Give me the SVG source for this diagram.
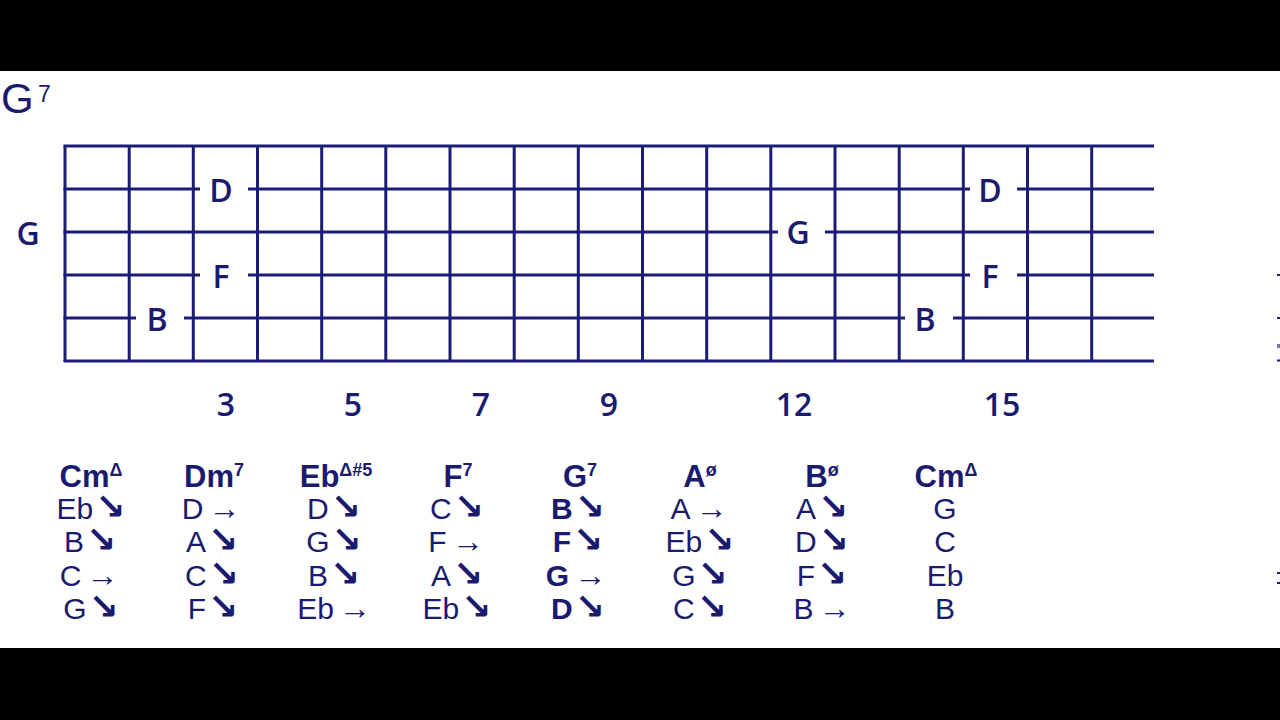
<svg xmlns="http://www.w3.org/2000/svg" width="1280" height="720" viewBox="0 0 1280 720">
<style>
.bar{fill:#000}
.ln{stroke:#1c1c74;stroke-width:3;fill:none;stroke-linecap:butt}
.fb{font-family:"Open Sans","DejaVu Sans",sans-serif;font-weight:600;font-size:32px;fill:#1a1a6e;text-anchor:middle}
.ttl{font-family:"Liberation Sans",Arial,sans-serif;fill:#1a1a6e}
.hdr{font-family:"Liberation Sans",Arial,sans-serif;font-weight:bold;font-size:31px;fill:#1a1a6e;text-anchor:middle}
.sup{font-size:18px}
.nt{font-family:"Liberation Sans",Arial,sans-serif;font-size:30px;fill:#1a1a6e;text-anchor:middle}
.b{font-weight:bold}
.dn{font-family:"DejaVu Sans",sans-serif;font-weight:bold;font-size:36px}
.rt{font-family:"Liberation Sans",Arial,sans-serif;font-weight:normal;font-size:32px}
.frag{fill:#1c1c74}
</style>
<rect width="1280" height="720" fill="#fff"/>
<rect class="bar" x="0" y="0" width="1280" height="71"/>
<rect class="bar" x="0" y="648" width="1280" height="72"/>

<g id="title">
<text class="ttl" x="1" y="113" font-size="42">G</text>
<text class="ttl" x="38" y="102" font-size="23">7</text>
</g>

<g id="fretboard">
<path class="ln" d="M63.5 146H1154 M63.5 361H1154
M63.5 189H200 M248 189H970 M1017 189H1154
M63.5 232H778 M825 232H1154
M63.5 275H200 M248 275H970 M1017 275H1154
M63.5 318H136 M184 318H905 M953 318H1154"/>
<path class="ln" d="M65 146V361 M129.2 146V361 M193.3 146V361 M257.5 146V361 M321.7 146V361 M385.8 146V361 M450 146V361 M514.2 146V361 M578.3 146V361 M642.5 146V361 M706.7 146V361 M770.8 146V361 M835 146V361 M899.2 146V361 M963.3 146V361 M1027.5 146V361 M1091.7 146V361"/>
</g>

<g id="open-string"><text class="fb" x="28" y="245">G</text></g>
<g id="note-D-3"><text class="fb" x="221" y="202">D</text></g>
<g id="note-F-3"><text class="fb" x="221" y="288">F</text></g>
<g id="note-B-2"><text class="fb" x="157" y="331">B</text></g>
<g id="note-G-12"><text class="fb" x="798" y="244">G</text></g>
<g id="note-B-14"><text class="fb" x="925" y="331">B</text></g>
<g id="note-D-15"><text class="fb" x="990" y="202">D</text></g>
<g id="note-F-15"><text class="fb" x="990" y="288">F</text></g>

<g id="fret-numbers">
<text class="fb" x="226" y="416">3</text>
<text class="fb" x="353" y="416">5</text>
<text class="fb" x="481" y="416">7</text>
<text class="fb" x="609" y="416">9</text>
<text class="fb" x="794" y="416">12</text>
<text class="fb" x="1002" y="416">15</text>
</g>

<g id="col-1">
<text class="hdr" x="91" y="487">Cm<tspan class="sup" dy="-11">Δ</tspan></text>
<text class="nt" x="91" y="519">Eb<tspan class="dn" dx="2">↘</tspan></text>
<text class="nt" x="90" y="552">B<tspan class="dn" dx="2">↘</tspan></text>
<text class="nt" x="89" y="585.5">C<tspan class="rt" dx="5">→</tspan></text>
<text class="nt" x="91" y="619">G<tspan class="dn" dx="2">↘</tspan></text>
</g>
<g id="col-2">
<text class="hdr" x="214" y="487">Dm<tspan class="sup" dy="-11">7</tspan></text>
<text class="nt" x="211" y="519">D<tspan class="rt" dx="5">→</tspan></text>
<text class="nt" x="212" y="552">A<tspan class="dn" dx="2">↘</tspan></text>
<text class="nt" x="212" y="585.5">C<tspan class="dn" dx="2">↘</tspan></text>
<text class="nt" x="213" y="619">F<tspan class="dn" dx="2">↘</tspan></text>
</g>
<g id="col-3">
<text class="hdr" x="336" y="487">Eb<tspan class="sup" dy="-11">Δ#5</tspan></text>
<text class="nt" x="334" y="519">D<tspan class="dn" dx="2">↘</tspan></text>
<text class="nt" x="334" y="552">G<tspan class="dn" dx="2">↘</tspan></text>
<text class="nt" x="334" y="585.5">B<tspan class="dn" dx="2">↘</tspan></text>
<text class="nt" x="334" y="619">Eb<tspan class="rt" dx="5">→</tspan></text>
</g>
<g id="col-4">
<text class="hdr" x="458" y="487">F<tspan class="sup" dy="-11">7</tspan></text>
<text class="nt" x="457" y="519">C<tspan class="dn" dx="2">↘</tspan></text>
<text class="nt" x="456" y="552">F<tspan class="rt" dx="5">→</tspan></text>
<text class="nt" x="457" y="585.5">A<tspan class="dn" dx="2">↘</tspan></text>
<text class="nt" x="457" y="619">Eb<tspan class="dn" dx="2">↘</tspan></text>
</g>
<g id="col-5">
<text class="hdr" x="580" y="487">G<tspan class="sup" dy="-11">7</tspan></text>
<text class="nt b" x="578" y="519">B<tspan class="dn" dx="2">↘</tspan></text>
<text class="nt b" x="578" y="552">F<tspan class="dn" dx="2">↘</tspan></text>
<text class="nt b" x="576" y="585.5">G<tspan class="rt" dx="5">→</tspan></text>
<text class="nt b" x="578" y="619">D<tspan class="dn" dx="2">↘</tspan></text>
</g>
<g id="col-6">
<text class="hdr" x="700" y="487">A<tspan class="sup" dy="-11">ø</tspan></text>
<text class="nt" x="699" y="519">A<tspan class="rt" dx="5">→</tspan></text>
<text class="nt" x="700" y="552">Eb<tspan class="dn" dx="2">↘</tspan></text>
<text class="nt" x="700" y="585.5">G<tspan class="dn" dx="2">↘</tspan></text>
<text class="nt" x="700" y="619">C<tspan class="dn" dx="2">↘</tspan></text>
</g>
<g id="col-7">
<text class="hdr" x="822" y="487">B<tspan class="sup" dy="-11">ø</tspan></text>
<text class="nt" x="822" y="519">A<tspan class="dn" dx="2">↘</tspan></text>
<text class="nt" x="822" y="552">D<tspan class="dn" dx="2">↘</tspan></text>
<text class="nt" x="822" y="585.5">F<tspan class="dn" dx="2">↘</tspan></text>
<text class="nt" x="822" y="619">B<tspan class="rt" dx="5">→</tspan></text>
</g>
<g id="col-8">
<text class="hdr" x="946" y="487">Cm<tspan class="sup" dy="-11">Δ</tspan></text>
<text class="nt" x="945" y="519">G</text>
<text class="nt" x="945" y="552">C</text>
<text class="nt" x="945" y="585.5">Eb</text>
<text class="nt" x="945" y="619">B</text>
</g>

<g id="edge-fragments">
<rect class="frag" x="1277" y="274" width="3" height="2"/>
<rect class="frag" x="1277" y="317" width="3" height="2"/>
<rect class="frag" x="1277" y="359.5" width="3" height="2"/>
<rect class="frag" x="1277" y="344" width="3" height="4" opacity="0.6"/>
<rect class="frag" x="1277" y="572" width="3" height="2"/>
<rect class="frag" x="1277" y="582" width="3" height="2"/>
</g>
</svg>
